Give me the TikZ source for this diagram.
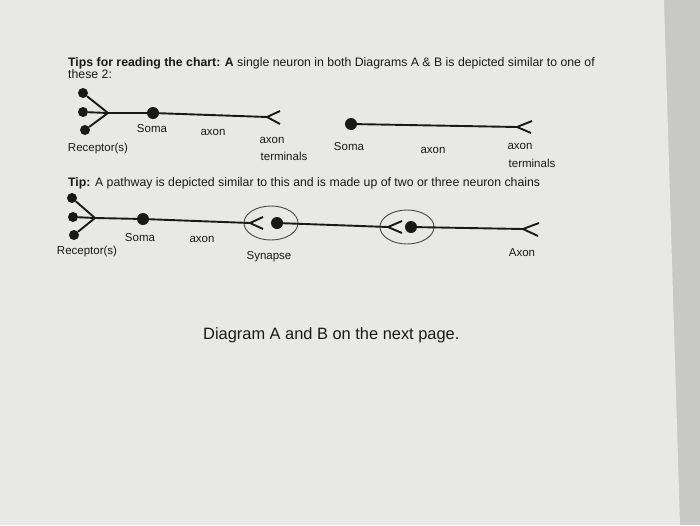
\documentclass[tikz,border=0pt]{standalone}
\usepackage{fontspec}
\setmainfont{Liberation Sans}
\usetikzlibrary{shapes.geometric}
\definecolor{pagec}{RGB}{232,232,230}
\definecolor{edgec}{RGB}{200,200,198}
\definecolor{inkc}{RGB}{25,25,25}
\begin{document}
\begin{tikzpicture}[x=1pt,y=-1pt,
  dot/.style={circle,fill=inkc,inner sep=0pt,minimum size=12pt},
  rdot/.style={circle,fill=inkc,inner sep=0pt,minimum size=10pt},
  nerve/.style={line width=1.9pt,draw=inkc},
  lbl/.style={font=\fontsize{11.5}{13}\selectfont,inner sep=0pt,text=inkc},
  para/.style={font=\fontsize{12.3}{14}\selectfont,inner sep=0pt,text=inkc,anchor=base west},
  syn/.style={ellipse,draw=inkc!80,line width=0.9pt,minimum width=54pt,minimum height=34pt,inner sep=0pt}
]
\useasboundingbox (0,0) rectangle (700,525);
% photo background
\fill[edgec] (0,0) rectangle (700,525);
\fill[pagec] (0,0) -- (664,0) -- (680,525) -- (0,525) -- cycle;

% heading
\node[para] (head1) at (68,66) {\textbf{Tips for reading the chart: A} single neuron in both Diagrams A \& B is depicted similar to one of};
\node[para] (head2) at (68,78) {these 2:};

% ---- Diagram 1 ----
\node[rdot] (a1r1) at (83,93) {};
\node[rdot] (a1r2) at (83,112) {};
\node[rdot] (a1r3) at (85,130) {};
\coordinate (a1j) at (108,113);
\node[dot] (a1s) at (153,113) {};
\coordinate (a1t) at (267,117);
\coordinate (a1u) at (280,111);
\coordinate (a1d) at (280,124);
\draw[nerve] (a1r1) -- (a1j);
\draw[nerve] (a1r2) -- (a1j);
\draw[nerve] (a1r3) -- (a1j);
\draw[nerve] (a1j) -- (a1s);
\draw[nerve] (a1s) -- (a1t);
\draw[nerve] (a1u) -- (a1t) -- (a1d);
\node[lbl] (a1soma) at (152,129) {Soma};
\node[lbl] (a1axon) at (213,132) {axon};
\node[lbl] (a1ax2) at (272,140) {axon};
\node[lbl] (a1term) at (284,156) {terminals};
\node[lbl] (a1rec) at (98,149) {Receptor(s)};

% ---- Diagram 2 ----
\node[dot] (a2s) at (351,124) {};
\coordinate (a2t) at (517,127);
\coordinate (a2u) at (532,121);
\coordinate (a2d) at (531,133);
\draw[nerve] (a2s) -- (a2t);
\draw[nerve] (a2u) -- (a2t) -- (a2d);
\node[lbl] (a2soma) at (349,147) {Soma};
\node[lbl] (a2axon) at (433,150) {axon};
\node[lbl] (a2ax2) at (520,146) {axon};
\node[lbl] (a2term) at (532,163) {terminals};

% tip line
\node[para] (tip) at (68,186) {\textbf{Tip:} A pathway is depicted similar to this and is made up of two or three neuron chains};

% ---- Pathway ----
\node[rdot] (p1r1) at (72,198) {};
\node[rdot] (p1r2) at (73,217) {};
\node[rdot] (p1r3) at (74,235) {};
\coordinate (pj) at (95,218);
\node[dot] (ps1) at (143,219) {};
\node[syn] (syn1) at (271,223) {};
\node[syn] (syn2) at (407,227) {};
\coordinate (pt1) at (250,223);
\coordinate (pt1u) at (263,217);
\coordinate (pt1d) at (263,229);
\node[dot] (ps2) at (277,223) {};
\coordinate (pt2) at (388,227);
\coordinate (pt2u) at (402,221);
\coordinate (pt2d) at (402,233);
\node[dot] (ps3) at (411,227) {};
\coordinate (pt3) at (523,229);
\coordinate (pt3u) at (539,223);
\coordinate (pt3d) at (538,236);
\draw[nerve] (p1r1) -- (pj);
\draw[nerve] (p1r2) -- (pj);
\draw[nerve] (p1r3) -- (pj);
\draw[nerve] (pj) -- (ps1);
\draw[nerve] (ps1) -- (pt1);
\draw[nerve] (pt1u) -- (pt1) -- (pt1d);
\draw[nerve] (ps2) -- (pt2);
\draw[nerve] (pt2u) -- (pt2) -- (pt2d);
\draw[nerve] (ps3) -- (pt3);
\draw[nerve] (pt3u) -- (pt3) -- (pt3d);
\node[lbl] (psoma) at (140,238) {Soma};
\node[lbl] (paxon) at (202,239) {axon};
\node[lbl] (prec) at (87,252) {Receptor(s)};
\node[lbl] (psyn) at (269,257) {Synapse};
\node[lbl] (pAxon) at (522,253) {Axon};

% bottom note
\node[para,font=\fontsize{16.4}{18}\selectfont] (note) at (203,339) {Diagram A and B on the next page.};
\end{tikzpicture}
\end{document}
